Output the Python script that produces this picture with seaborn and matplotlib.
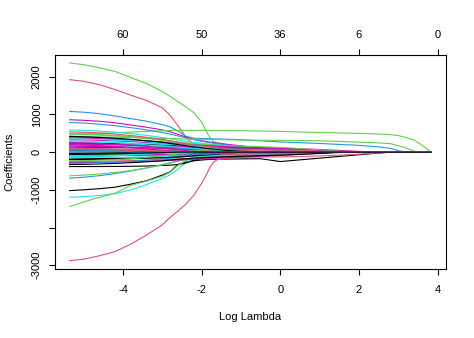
import numpy as np
import pandas as pd
import matplotlib
matplotlib.use("Agg")
import matplotlib.pyplot as plt
import seaborn as sns

# ---------------- data ----------------
# fine lambda grid used for the large coefficients
LOG_LAMBDA_FINE = [-5.36, -5.0, -4.6, -4.2, -3.8, -3.4, -3.0, -2.8, -2.6, -2.4, -2.2,
                   -2.0, -1.9, -1.8, -1.7, -1.6, -1.4, -1.2, -1.0, -0.5, 0.0, 0.5,
                   1.0, 1.5, 2.0, 2.5, 2.8, 3.0, 3.2, 3.4, 3.6, 3.7, 3.84]
# coarser grid used for the small coefficients in the central bundle
LOG_LAMBDA = [-5.36, -4.8, -4.2, -3.6, -3.0, -2.6, -2.2, -1.8, -1.4, -1.0, -0.5,
              0.0, 0.5, 1.0, 1.5, 2.0, 2.5, 2.8, 3.1, 3.4, 3.6, 3.84]

X_TICKS = [-4, -2, 0, 2, 4]
X_TICK_LABELS = ["-4", "-2", "0", "2", "4"]
TOP_TICK_LABELS = ["60", "50", "36", "6", "0"]       # number of non-zero coefficients
Y_TICKS = [-3000, -2000, -1000, 0, 1000, 2000]
Y_TICK_LABELS = ["-3000", "", "-1000", "0", "1000", "2000"]

# large coefficient paths (fine grid); a lasso path is exactly 0 after its last value
k1 = [-1021, -1000, -970, -930, -850, -760, -610, -520, -330, -260, -230, -210, -200, -195,
      -190, -188, -185, -182, -180, -175, -250, -205, -160, -115, -70, -25, 0]
r1 = [1923, 1880, 1790, 1660, 1510, 1370, 1180, 980, 700, 400, 190, 120, 100, 90, 80, 70,
      55, 40, 25, 0]
g1 = [2367, 2320, 2240, 2140, 1980, 1820, 1610, 1475, 1340, 1200, 1050, 800, 600, 400, 280,
      250, 200, 160, 130, 90, 60, 30, 0]
b1 = [1080, 1060, 1020, 960, 890, 820, 730, 670, 560, 420, 370, 360, 358, 355, 352, 350, 345,
      338, 330, 300, 270, 250, 230, 205, 180, 140, 100, 40, 0]
c1 = [-1197, -1180, -1150, -1100, -1000, -860, -700, -600, -450, -280, -180, -150, -140, -130,
      -120, -110, -100, -90, -80, -60, -40, -20, 0]
m1 = [859, 845, 820, 780, 720, 660, 590, 540, 470, 400, 340, 300, 285, 270, 255, 240, 215, 190,
      170, 110, 70, 45, 30, 10, 0]
k2 = [-383, -383, -382, -380, -375, -368, -355, -345, -330, -290, -220, -170, -155, -145, -138,
      -132, -120, -110, -100, -80, -60, -40, -20, 0]
r2 = [-2883, -2840, -2750, -2640, -2440, -2200, -1930, -1730, -1560, -1380, -1150, -830, -650,
      -430, -270, -200, -170, -150, -140, -130, -125, -117, -100, -80, -55, -25, 0]
g2 = [480, 490, 500, 515, 530, 550, 565, 572, 576, 578, 578, 578, 577, 576, 575, 574, 572, 570,
      568, 560, 550, 535, 520, 508, 497, 480, 465, 440, 390, 320, 190, 110, 0]
b3 = [787, 770, 740, 700, 650, 590, 520, 480, 430, 380, 330, 290, 270, 250, 235, 220, 195, 170,
      150, 100, 60, 30, 0]
g4 = [-1447, -1320, -1200, -1090, -880, -770, -640, -530, -350, -220, -160, -130, -120, -110,
      -100, -95, -85, -75, -70, -50, -30, 0]
b2 = [-692, -665, -625, -570, -500, -420, -330, -280, -230, -190, -160, -140, -130, -120, -110,
      -100, -80, -60, -40, -20, 0]
g5 = [-630, -610, -580, -540, -490, -420, -340, -290, -240, -190, -150, -120, -110, -100, -90,
      -80, -60, -45, -30, -10, 0]
g3 = [420, 415, 405, 395, 385, 375, 365, 360, 355, 350, 345, 340, 338, 336, 334, 332, 328, 324,
      320, 315, 312, 310, 300, 285, 265, 245, 225, 170, 110, 25, 0]

# small coefficients that drop out early (coarse grid)
group_a = [
    [120, 100, 70, 40, 10, 0],
    [-90, -80, -60, -30, 0],
    [60, 50, 30, 10, 0],
    [-150, -130, -100, -60, -20, 0],
    [200, 180, 150, 100, 50, 20, 0],
    [-40, -30, -20, 0],
    [90, 85, 70, 50, 30, 10, 0],
    [-230, -220, -200, -160, -100, -50, -10, 0],
    [30, 25, 15, 0],
    [-120, -110, -90, -60, -30, -10, 0],
    [250, 240, 210, 170, 110, 60, 20, 0],
    [-60, -55, -45, -30, -15, 0],
]
# coefficients that drop out around log lambda -1 .. 0
group_b = [
    [480, 460, 430, 380, 310, 250, 180, 120, 70, 30, 0],
    [-300, -290, -270, -230, -180, -140, -100, -70, -40, -10, 0],
    [350, 340, 320, 290, 240, 200, 150, 100, 60, 20, 0],
    [160, 150, 140, 120, 100, 80, 60, 40, 20, 0],
    [-200, -195, -185, -170, -150, -130, -100, -70, -30, 0],
    [540, 520, 480, 420, 340, 260, 190, 140, 90, 50, 20, 0],
    [10, 20, 30, 40, 50, 45, 40, 30, 20, 10, 0],
    [-20, -30, -40, -50, -60, -70, -60, -50, -30, 0],
    [300, 280, 250, 210, 160, 130, 100, 70, 40, 10, 0],
    [-110, -100, -90, -80, -60, -50, -40, -30, -20, -10, 0],
    [420, 400, 370, 320, 260, 200, 140, 90, 50, 20, 10, 0],
]
# coefficients still active at log lambda 0
group_c = [
    [590, 570, 530, 470, 390, 320, 260, 210, 170, 140, 110, 80, 50, 20, 0],
    [330, 320, 300, 270, 230, 200, 170, 150, 130, 110, 90, 70, 40, 10, 0],
    [240, 235, 225, 210, 190, 170, 150, 130, 110, 90, 70, 50, 30, 10, 0],
    [-250, -245, -235, -220, -200, -180, -160, -140, -120, -100, -80, -60, -40, -20, 0],
    [180, 175, 170, 160, 150, 140, 130, 120, 110, 95, 80, 60, 40, 15, 0],
    [100, 105, 110, 115, 120, 120, 118, 115, 110, 100, 85, 65, 45, 25, 0],
    [-180, -175, -165, -150, -130, -110, -95, -85, -75, -65, -55, -45, -30, -15, 0],
    [60, 65, 70, 75, 80, 82, 85, 85, 82, 78, 70, 60, 45, 30, 15, 0],
    [-60, -62, -65, -70, -75, -80, -85, -90, -90, -85, -75, -60, -40, -20, 0],
    [280, 270, 255, 235, 210, 190, 175, 165, 155, 140, 120, 95, 65, 35, 10, 0],
    [-280, -275, -265, -250, -230, -210, -190, -170, -150, -130, -110, -85, -60, -30, 0],
    [130, 128, 125, 120, 115, 110, 105, 100, 95, 90, 85, 75, 60, 40, 20, 0],
    [-10, 0, 10, 25, 40, 55, 70, 80, 85, 85, 80, 70, 55, 35, 15, 0],
    [400, 385, 360, 320, 275, 240, 210, 185, 165, 145, 125, 100, 70, 40, 10, 0],
    [-140, -138, -135, -130, -120, -110, -100, -90, -80, -70, -60, -50, -35, -20, 0],
    [210, 205, 195, 180, 165, 150, 140, 130, 125, 120, 115, 105, 90, 70, 45, 20, 0],
    [50, 48, 45, 40, 35, 30, 28, 26, 24, 22, 20, 18, 14, 8, 0],
    [-90, -90, -88, -85, -80, -75, -70, -65, -60, -55, -50, -45, -35, -20, 0],
    [500, 480, 445, 395, 330, 270, 225, 195, 175, 160, 145, 125, 95, 60, 25, 0],
    [150, 145, 138, 128, 115, 105, 95, 88, 82, 76, 70, 62, 50, 35, 15, 0],
    [-30, -28, -25, -20, -15, -10, -8, -6, -5, -5, -5, -5, -3, 0],
    [380, 365, 340, 305, 260, 220, 190, 165, 145, 125, 105, 85, 60, 30, 0],
    [-330, -320, -300, -270, -230, -190, -160, -140, -125, -110, -95, -80, -60, -35, -10, 0],
    [20, 22, 25, 30, 35, 40, 45, 50, 55, 58, 60, 55, 45, 30, 10, 0],
]

# R default palette, as cycled by matplot / plot.glmnet
R_PALETTE = ["#000000", "#DF536B", "#61D04F", "#2297E6", "#28E2E5", "#CD0BBC"]

# ---------------- assemble column order (determines colour cycling) -------------
fixed = {0: k1, 1: r1, 2: g1, 3: b1, 4: c1, 5: m1, 6: k2, 7: r2, 8: g2, 9: b3,
         14: g4, 15: b2, 20: g5, 26: g3}
small = group_c + group_b + group_a
n_total = len(fixed) + len(small)

rows = []
it = iter(small)
for i in range(n_total):
    if i in fixed:
        path, grid = fixed[i], LOG_LAMBDA_FINE
    else:
        path, grid = next(it), LOG_LAMBDA
    vals = list(path) + [0] * (len(grid) - len(path))
    for x, v in zip(grid, vals):
        rows.append((f"V{i+1:02d}", x, v))
df = pd.DataFrame(rows, columns=["coef", "log_lambda", "value"])
order = [f"V{i+1:02d}" for i in range(n_total)]
palette = {name: R_PALETTE[i % 6] for i, name in enumerate(order)}

# ---------------- plot ----------------
sns.set_style("white")
plt.rcParams["font.family"] = ["Liberation Sans", "DejaVu Sans"]
plt.rcParams["font.size"] = 8
for key in ["text.color", "axes.labelcolor", "xtick.color", "ytick.color"]:
    plt.rcParams[key] = "black"

W, H = 474, 338
fig = plt.figure(figsize=(W / 100, H / 100), dpi=100)
L, R, T, B = 55, 445.7, 55, 268.7
ax = fig.add_axes([L / W, 1 - B / H, (R - L) / W, (B - T) / H])

sns.lineplot(data=df, x="log_lambda", y="value", hue="coef", hue_order=order,
             palette=palette, estimator=None, sort=False, legend=False,
             linewidth=0.8, ax=ax)

xmin, xmax = min(LOG_LAMBDA_FINE), max(LOG_LAMBDA_FINE)
ymin, ymax = df["value"].min(), df["value"].max()
ax.set_xlim(xmin - 0.04 * (xmax - xmin), xmax + 0.04 * (xmax - xmin))
ax.set_ylim(ymin - 0.04 * (ymax - ymin), ymax + 0.04 * (ymax - ymin))

ax.set_xticks(X_TICKS)
ax.set_xticklabels(X_TICK_LABELS)
ax.set_yticks(Y_TICKS)
ax.set_yticklabels(Y_TICK_LABELS, rotation=90, va="center")
ax.tick_params(axis="x", direction="out", length=4.5, width=0.8, color="black",
               pad=7, labelsize=8, bottom=True, labelcolor="black")
ax.tick_params(axis="y", direction="out", length=4.5, width=0.8, color="black",
               pad=5, labelsize=8, left=True, labelcolor="black")

for s in ax.spines.values():
    s.set_visible(True)
    s.set_color("black")
    s.set_linewidth(0.8)

sec = ax.secondary_xaxis("top")
sec.set_xticks(X_TICKS)
sec.set_xticklabels(TOP_TICK_LABELS)
sec.tick_params(axis="x", direction="out", length=4.5, width=0.8, color="black",
                pad=6, labelsize=8, labelcolor="black")
sec.spines["top"].set_visible(False)

ax.set_xlabel("Log Lambda", fontsize=8, va="center", color="black")
ax.xaxis.set_label_coords(0.5, (B - 316.7) / (B - T))
ax.set_ylabel("Coefficients", fontsize=8, va="center", color="black")
ax.yaxis.set_label_coords((9.5 - L) / (R - L), 0.5)

fig.savefig("out.png", dpi=100, facecolor="white")
